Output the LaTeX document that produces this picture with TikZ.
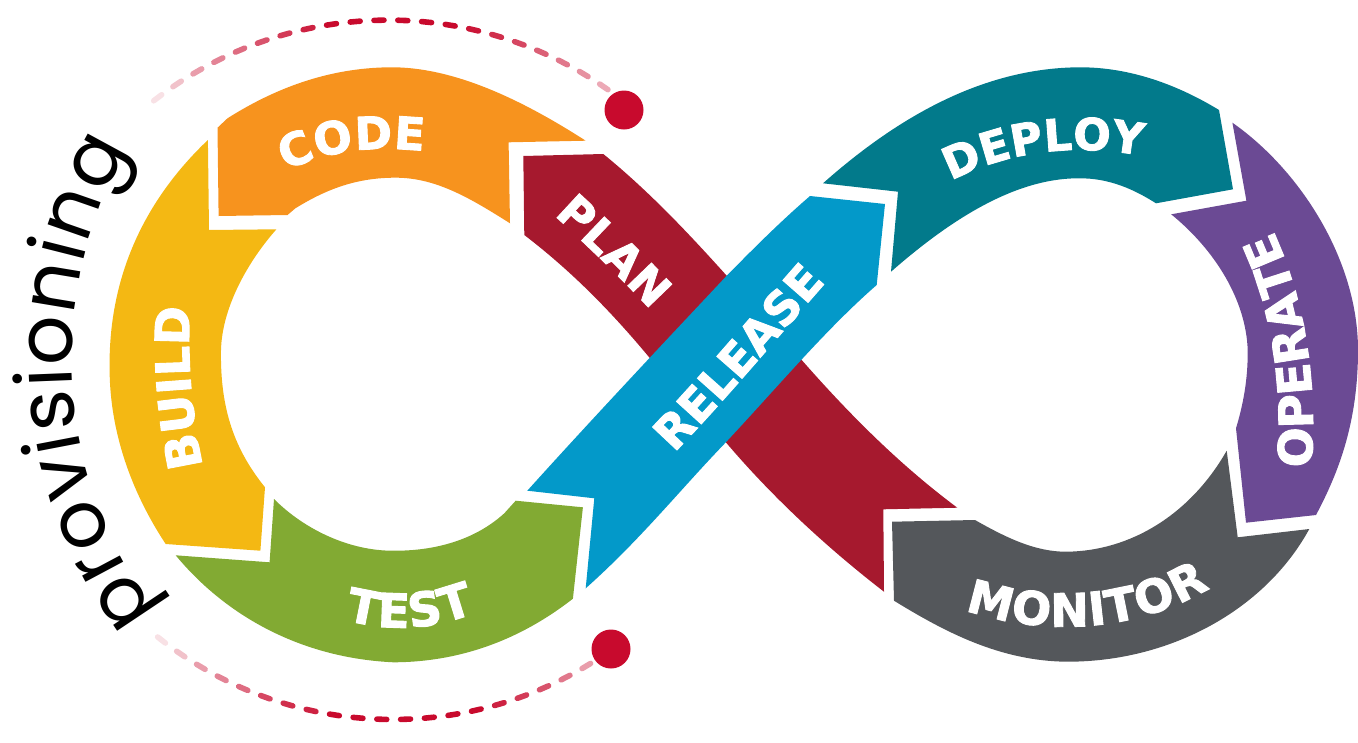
\documentclass[tikz,border=0pt]{standalone}
\usepackage{fontspec}
\usepackage{tikz}
\usetikzlibrary{decorations.text}
\newfontfamily\ribbonfont[BoldFeatures={FakeBold=2}]{DejaVu Sans}
\newfontfamily\provfont{Poppins}
\definecolor{codecol}{HTML}{F7931E}
\definecolor{buildcol}{HTML}{F4B813}
\definecolor{testcol}{HTML}{82AA33}
\definecolor{releasecol}{HTML}{0399C9}
\definecolor{plancol}{HTML}{A6192E}
\definecolor{deploycol}{HTML}{027A8B}
\definecolor{operatecol}{HTML}{6B4A94}
\definecolor{monitorcol}{HTML}{54575B}
\definecolor{dotcol}{HTML}{C80A2D}
\begin{document}
\begin{tikzpicture}[x=1pt,y=-1pt,%
% common options for the words on the ribbons:
ribbonlabel/.style 2 args = {decorate, decoration={text along path, text align=fit to path,
            text={|\fontsize{#1}{#1}\selectfont\ribbonfont\bfseries\color{white}|#2}}},
% common options for the dots and dashes:
enddot/.style = {circle, fill=dotcol, minimum size=39pt, inner sep=0},
dashseg/.style = {draw=dotcol, line width=5.6pt, line cap=round}]
\useasboundingbox (0,0) rectangle (1358,742);
% ribbons
\fill[plancol] (523.3,156) -- (603.3,154) .. controls (650,192) and (690,235) .. (726.7,275.7) -- (801.7,360) .. controls (850,415) and (900,465) .. (957.3,507.7) -- (883.3,509.3) -- (884,591.7) .. controls (830,550) and (775,500) .. (726.7,443.3) -- (650,358.3) .. controls (610,310) and (570,270) .. (524.3,235) -- cycle;
\fill[codecol] (217.5,127.7) -- (227.5,118.3) .. controls (280,85) and (335,67) .. (393.6,67.3) .. controls (460,68) and (530,105) .. (585.7,140.7) -- (508.6,142.3) -- (510,223.3) .. controls (470,198) and (435,177) .. (393.6,177.7) .. controls (355,178) and (325,190) .. (295.4,208.3) -- (287.5,215) -- (218.6,216) -- cycle;
\fill[buildcol] (207.9,140) .. controls (150,195) and (108,270) .. (109.6,370) .. controls (110,430) and (130,490) .. (165.7,544) -- (260.4,550.7) -- (265,487.3) .. controls (235,450) and (220,410) .. (221,350) .. controls (222,310) and (245,265) .. (276.4,229.3) -- (209,230) -- cycle;
\fill[testcol] (175.7,555.3) -- (269.6,562.3) -- (274,499) .. controls (305,530) and (350,551) .. (393.6,550.7) .. controls (435,551) and (475,540) .. (504.3,513.3) -- (515.7,500.7) -- (582.9,507.3) -- (572.9,598.7) .. controls (520,640) and (460,662) .. (393.6,662.3) .. controls (300,658) and (225,615) .. (175.7,555.3) -- cycle;
\fill[releasecol] (527.3,490.7) -- (594.3,498.3) -- (585.7,588.3) .. controls (640,540) and (680,490) .. (723.3,445) .. controls (775,390) and (825,330) .. (876.7,285) -- (885,204) -- (810,196) .. controls (780,222) and (755,247) .. (726.7,275.7) .. controls (690,315) and (600,410) .. (527.3,490.7) -- cycle;
\fill[deploycol] (823,183.3) .. controls (900,115) and (985,68) .. (1079,67.3) .. controls (1130,67) and (1178,85) .. (1219,110) -- (1233,189.3) -- (1156,203.3) .. controls (1135,190) and (1110,178) .. (1079,178.3) .. controls (1015,178) and (950,220) .. (891,271.7) -- (898,191.7) -- cycle;
\fill[operatecol] (1232.4,122.7) .. controls (1300,170) and (1358,260) .. (1358,350) .. controls (1358,420) and (1340,470) .. (1316,515) -- (1246,522.7) -- (1236,428.3) .. controls (1243,405) and (1248,380) .. (1247.7,350) .. controls (1246,300) and (1215,250) .. (1171.2,214.3) -- (1246.4,200.7) -- cycle;
\fill[monitorcol] (892,521.7) -- (975,520) .. controls (1005,537) and (1035,552) .. (1066.7,551.7) .. controls (1130,551) and (1190,515) .. (1226.7,450.7) -- (1237.7,537.3) -- (1309.3,529) .. controls (1265,610) and (1170,662) .. (1066.7,661.7) .. controls (1000,661) and (945,632) .. (894,600.7) -- cycle;
% words
\path[ribbonlabel={45}{CODE}] (286,171) .. controls (330,149) and (375,146) .. (424,151);
\path[ribbonlabel={47}{BUILD}] (203,466) .. controls (192,420) and (187,360) .. (190,310);
\path[ribbonlabel={47}{TEST}] (345,620) .. controls (390,632) and (430,630) .. (475,613);
\path[ribbonlabel={46}{RELEASE}] (674,453) .. controls (725,400) and (775,340) .. (826,282);
\path[ribbonlabel={45}{PLAN}] (554,215) .. controls (587,245) and (620,277) .. (651,310);
\path[ribbonlabel={44}{DEPLOY}] (951,181) .. controls (1000,155) and (1065,142) .. (1138,155);
\path[ribbonlabel={47}{OPERATE}] (1311,468) .. controls (1317,400) and (1310,310) .. (1273,231);
\path[ribbonlabel={46}{MONITOR}] (965,610) .. controls (1040,635) and (1130,635) .. (1210,588);
% side word
\path[decorate, decoration={text along path, text align=fit to path,
            text={|\fontsize{78}{78}\selectfont\provfont|provisioning}}]
  (157,612) .. controls (95,530) and (70,440) .. (72,350) .. controls (73,280) and (95,200) .. (130,150);
% dots
\node[enddot] (topdot) at (624,110) {};
\node[enddot] (botdot) at (611,649) {};
% dashes
\foreach \i/\op in {0/.12,1/.25,2/.4,3/.5,4/.6,5/.7,6/.8,7/.9,8/1,9/1,10/1,11/1,12/1,13/1,14/.95,15/.85,16/.75,17/.65,18/.55,19/.45,20/.35} {
  \pgfmathsetmacro{\ang}{127.2-\i*3.58}
  \draw[dashseg, opacity=\op] ({388.3+381.5*cos(\ang+.75)},{401.6-381.5*sin(\ang+.75)}) -- ({388.3+381.5*cos(\ang-.75)},{401.6-381.5*sin(\ang-.75)});
}
\foreach \i/\op in {0/.12,1/.25,2/.4,3/.5,4/.6,5/.75,6/.85,7/.9,8/1,9/1,10/1,11/1,12/1,13/1,14/1,15/.9,16/.8,17/.7,18/.55,19/.4} {
  \pgfmathsetmacro{\ang}{127.9-\i*3.621}
  \draw[dashseg, opacity=\op] ({392.9+376.7*cos(\ang+.75)},{342.8+376.7*sin(\ang+.75)}) -- ({392.9+376.7*cos(\ang-.75)},{342.8+376.7*sin(\ang-.75)});
}
\end{tikzpicture}
\end{document}
